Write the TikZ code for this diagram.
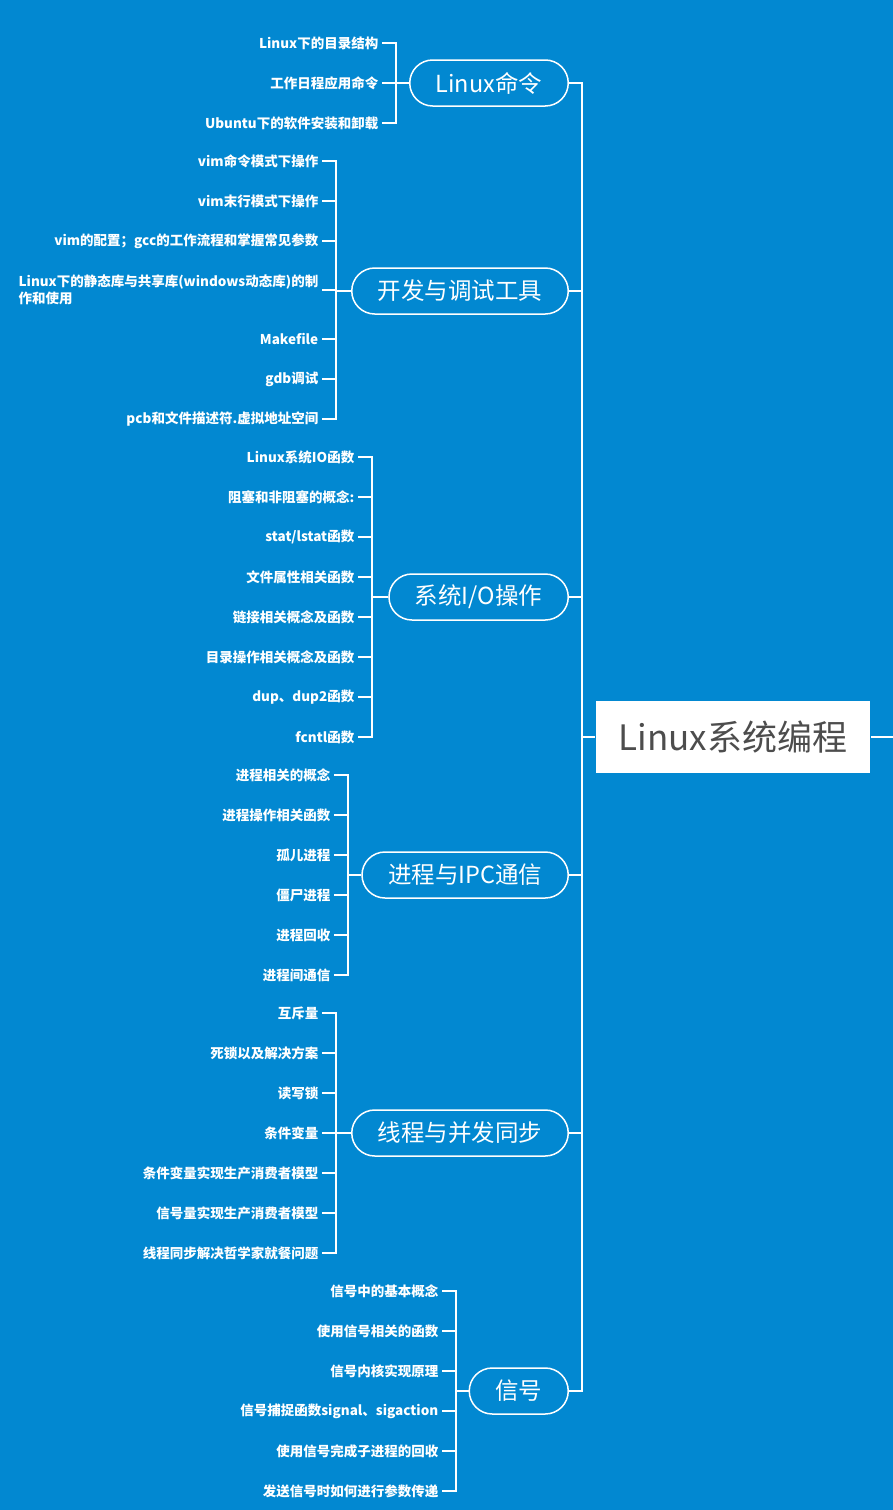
\documentclass[tikz,border=0pt]{standalone}
\usepackage{fontspec}
\setmainfont{Noto Sans CJK SC}
\definecolor{bgblue}{HTML}{0288D1}
\definecolor{rootgray}{HTML}{4D4D4D}

\begin{document}
\begin{tikzpicture}[x=1pt, y=-1pt, line width=1.5pt,
	leaf/.style={anchor=east, inner xsep=3pt, inner ysep=1pt, text=white, font=\bfseries\fontsize{13.5}{17}\selectfont, align=left},
	branch/.style={anchor=east, rectangle, rounded corners=23pt, draw=white, text=white, minimum height=46pt, inner xsep=26pt, font=\fontsize{23.5}{28}\selectfont},
	root/.style={rectangle, fill=white, text=rootgray, minimum width=274pt, minimum height=72pt, font=\fontsize{35}{42}\selectfont}]
	\fill[bgblue] (0,0) rectangle (893,1510);
	\useasboundingbox (0,0) rectangle (893,1510);

	% root and trunk
	\node (root) at (733,737)[root]{Linux系统编程};
	\coordinate (trunk) at (582,737);
	\coordinate (tail) at (893,737);
	\draw[white] (trunk) -- (root.west);
	\draw[white] (root.east) -- (tail);

	% branches
	\node (b1) at (569,83)[branch]{Linux命令};
	\node (b2) at (569,291)[branch]{开发与调试工具};
	\node (b3) at (569,597)[branch]{系统I/O操作};
	\node (b4) at (569,875)[branch]{进程与IPC通信};
	\node (b5) at (569,1133)[branch]{线程与并发同步};
	\node (b6) at (569,1391)[branch]{信号};
	\draw[white] (b1.east) -| (trunk);
	\draw[white] (b2.east) -| (trunk);
	\draw[white] (b3.east) -| (trunk);
	\draw[white] (b4.east) -| (trunk);
	\draw[white] (b5.east) -| (trunk);
	\draw[white] (b6.east) -| (trunk);

	% Linux命令
	\coordinate (k1) at (396,83);
	\node (l101) at (382,43)[leaf]{Linux下的目录结构};
	\node (l102) at (382,83)[leaf]{工作日程应用命令};
	\node (l103) at (382,123)[leaf]{Ubuntu下的软件安装和卸载};
	\draw[white] (k1) -- (b1.west);
	\draw[white] (l101.east) -| (k1);
	\draw[white] (l102.east) -| (k1);
	\draw[white] (l103.east) -| (k1);

	% 开发与调试工具
	\coordinate (k2) at (336,291);
	\node (l201) at (322,161)[leaf]{vim命令模式下操作};
	\node (l202) at (322,201)[leaf]{vim末行模式下操作};
	\node (l203) at (322,241)[leaf]{vim的配置；gcc的工作流程和掌握常见参数};
	\node (l204) at (322,290)[leaf]{Linux下的静态库与共享库(windows动态库)的制\\作和使用};
	\node (l205) at (322,339)[leaf]{Makefile};
	\node (l206) at (322,379)[leaf]{gdb调试};
	\node (l207) at (322,419)[leaf]{pcb和文件描述符.虚拟地址空间};
	\draw[white] (k2) -- (b2.west);
	\draw[white] (l201.east) -| (k2);
	\draw[white] (l202.east) -| (k2);
	\draw[white] (l203.east) -| (k2);
	\draw[white] (l204.east) -| (k2);
	\draw[white] (l205.east) -| (k2);
	\draw[white] (l206.east) -| (k2);
	\draw[white] (l207.east) -| (k2);

	% 系统I/O操作
	\coordinate (k3) at (372,597);
	\node (l301) at (358,457)[leaf]{Linux系统IO函数};
	\node (l302) at (358,497)[leaf]{阻塞和非阻塞的概念:};
	\node (l303) at (358,537)[leaf]{stat/lstat函数};
	\node (l304) at (358,577)[leaf]{文件属性相关函数};
	\node (l305) at (358,617)[leaf]{链接相关概念及函数};
	\node (l306) at (358,657)[leaf]{目录操作相关概念及函数};
	\node (l307) at (358,697)[leaf]{dup、dup2函数};
	\node (l308) at (358,737)[leaf]{fcntl函数};
	\draw[white] (k3) -- (b3.west);
	\draw[white] (l301.east) -| (k3);
	\draw[white] (l302.east) -| (k3);
	\draw[white] (l303.east) -| (k3);
	\draw[white] (l304.east) -| (k3);
	\draw[white] (l305.east) -| (k3);
	\draw[white] (l306.east) -| (k3);
	\draw[white] (l307.east) -| (k3);
	\draw[white] (l308.east) -| (k3);

	% 进程与IPC通信
	\coordinate (k4) at (348,875);
	\node (l401) at (334,775)[leaf]{进程相关的概念};
	\node (l402) at (334,815)[leaf]{进程操作相关函数};
	\node (l403) at (334,855)[leaf]{孤儿进程};
	\node (l404) at (334,895)[leaf]{僵尸进程};
	\node (l405) at (334,935)[leaf]{进程回收};
	\node (l406) at (334,975)[leaf]{进程间通信};
	\draw[white] (k4) -- (b4.west);
	\draw[white] (l401.east) -| (k4);
	\draw[white] (l402.east) -| (k4);
	\draw[white] (l403.east) -| (k4);
	\draw[white] (l404.east) -| (k4);
	\draw[white] (l405.east) -| (k4);
	\draw[white] (l406.east) -| (k4);

	% 线程与并发同步
	\coordinate (k5) at (336,1133);
	\node (l501) at (322,1013)[leaf]{互斥量};
	\node (l502) at (322,1053)[leaf]{死锁以及解决方案};
	\node (l503) at (322,1093)[leaf]{读写锁};
	\node (l504) at (322,1133)[leaf]{条件变量};
	\node (l505) at (322,1173)[leaf]{条件变量实现生产消费者模型};
	\node (l506) at (322,1213)[leaf]{信号量实现生产消费者模型};
	\node (l507) at (322,1253)[leaf]{线程同步解决哲学家就餐问题};
	\draw[white] (k5) -- (b5.west);
	\draw[white] (l501.east) -| (k5);
	\draw[white] (l502.east) -| (k5);
	\draw[white] (l503.east) -| (k5);
	\draw[white] (l504.east) -| (k5);
	\draw[white] (l505.east) -| (k5);
	\draw[white] (l506.east) -| (k5);
	\draw[white] (l507.east) -| (k5);

	% 信号
	\coordinate (k6) at (456,1391);
	\node (l601) at (442,1291)[leaf]{信号中的基本概念};
	\node (l602) at (442,1331)[leaf]{使用信号相关的函数};
	\node (l603) at (442,1371)[leaf]{信号内核实现原理};
	\node (l604) at (442,1411)[leaf]{信号捕捉函数signal、sigaction};
	\node (l605) at (442,1451)[leaf]{使用信号完成子进程的回收};
	\node (l606) at (442,1491)[leaf]{发送信号时如何进行参数传递};
	\draw[white] (k6) -- (b6.west);
	\draw[white] (l601.east) -| (k6);
	\draw[white] (l602.east) -| (k6);
	\draw[white] (l603.east) -| (k6);
	\draw[white] (l604.east) -| (k6);
	\draw[white] (l605.east) -| (k6);
	\draw[white] (l606.east) -| (k6);
\end{tikzpicture}
\end{document}
